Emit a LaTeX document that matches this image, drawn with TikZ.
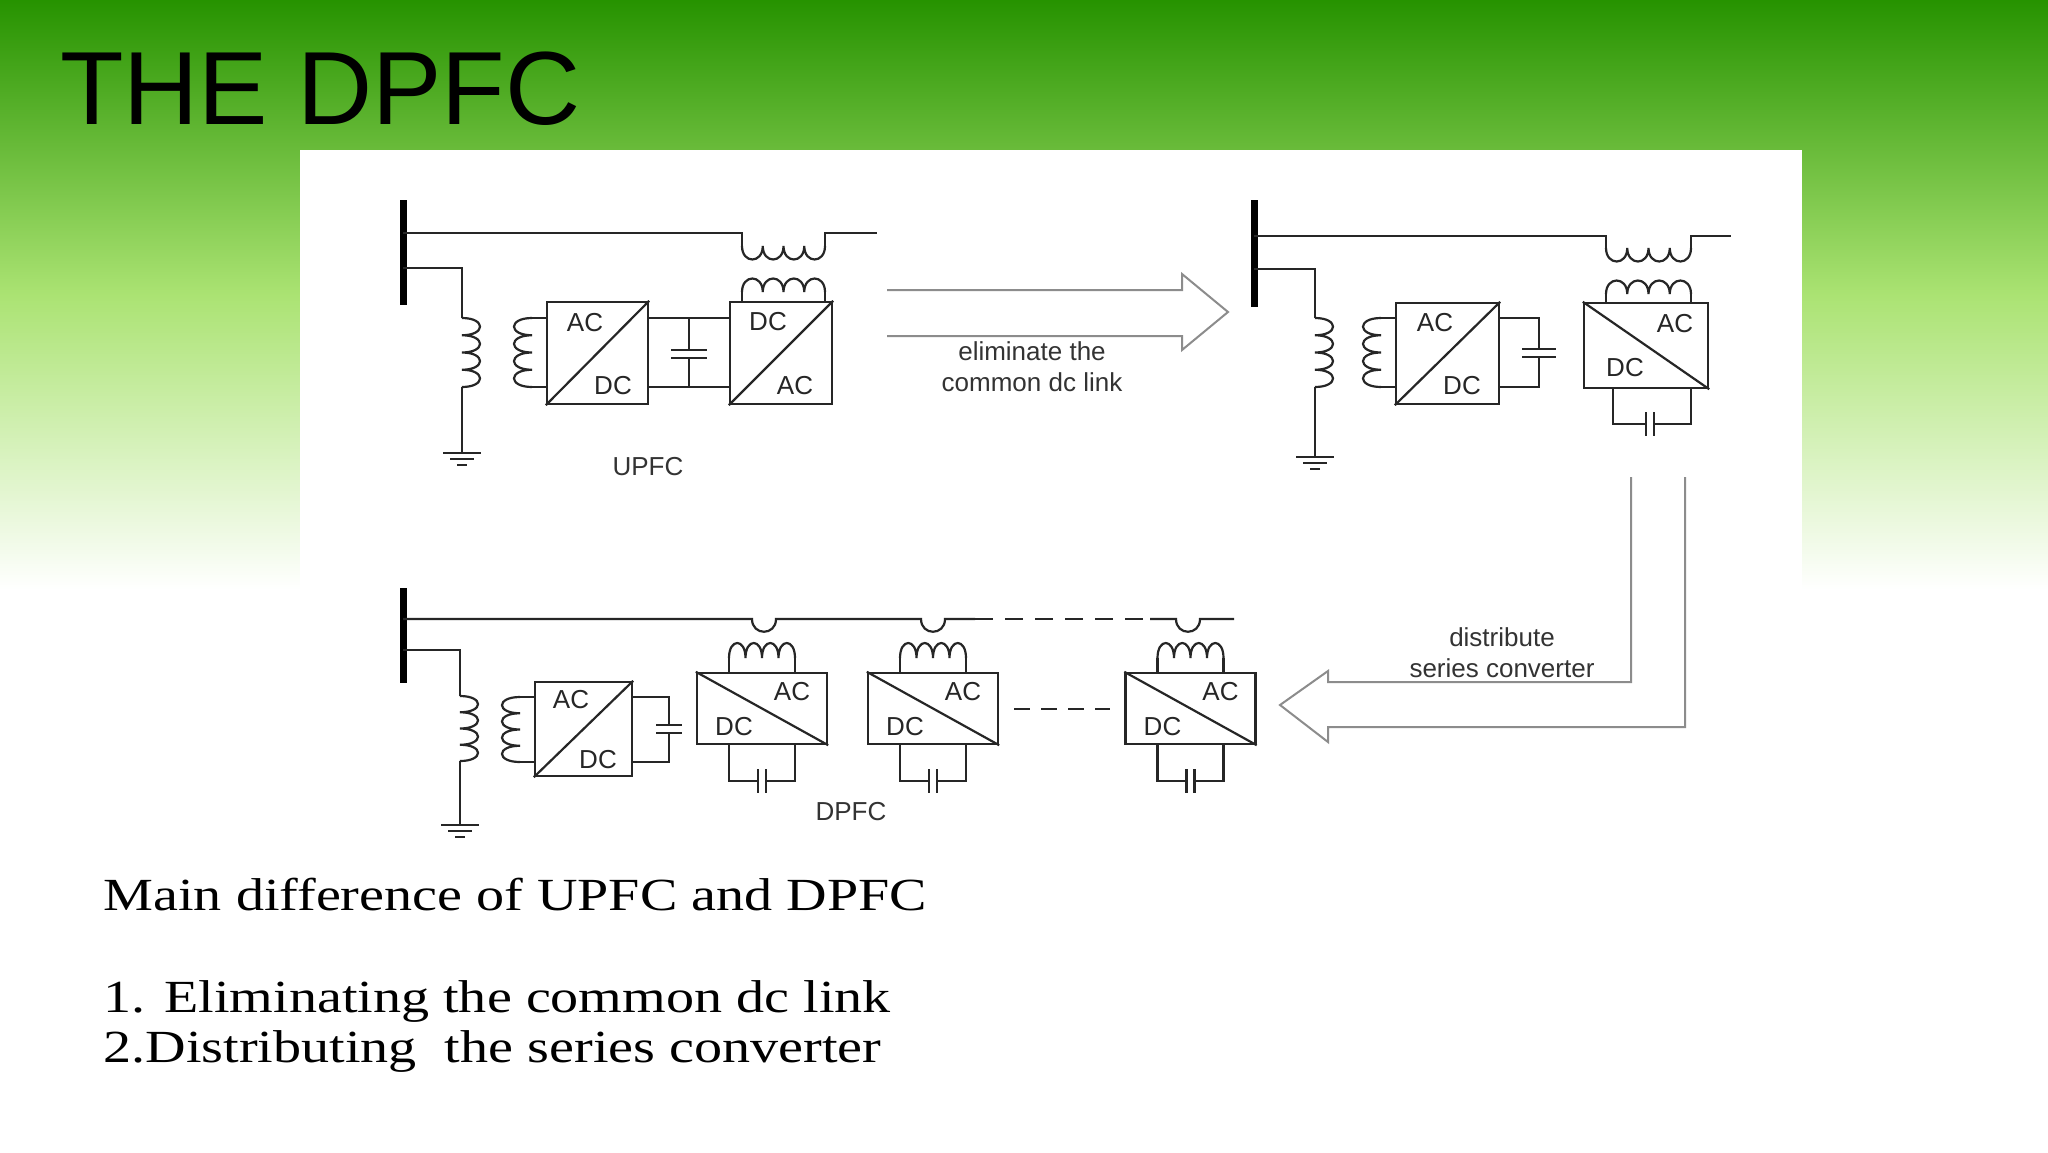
\documentclass[tikz,border=0pt]{standalone}
\usepackage{graphicx}
\usepackage{fontspec}
\setmainfont{Liberation Serif}
\newfontfamily\arialf{Liberation Sans}
\begin{document}
\begin{tikzpicture}[x=1pt,y=-1pt,
  wire/.style={line width=2.2pt,draw=black!85},
  bus/.style={line width=7pt,draw=black},
  box/.style={draw=black!85,line width=2.4pt,minimum width=#1,inner sep=0pt},
  lbl/.style={font=\arialf\fontsize{26}{28}\selectfont,text=black!85},
  note/.style={font=\arialf\fontsize{26}{31}\selectfont,text=black!80},
  big/.style={draw=black!45,line width=2pt},
  body/.style={font=\fontsize{46}{52}\selectfont,anchor=base west}]
\newcommand\hcoil[4]{\draw[wire] (#1,#2) foreach \k in {1,...,4}{ .. controls +(0,#4) and +(0,#4) .. ++(#3,0)};}
\newcommand\vcoil[4]{\draw[wire] (#1,#2) foreach \k in {1,...,4}{ .. controls +(#4,0) and +(#4,0) .. ++(0,#3)};}
\newcommand\gnd[2]{\draw[wire] (#1-19,#2)--(#1+19,#2) (#1-12,#2+6)--(#1+12,#2+6) (#1-5,#2+12)--(#1+5,#2+12);}
\useasboundingbox (0,0) rectangle (2048,1152);
\fill[white] (0,0) rectangle (2048,1152);
\shade[top color=green!50!black!85!yellow, bottom color=white, middle color=green!50!yellow!80!black!55] (0,0) rectangle (2048,590);
\fill[white] (300,150) rectangle (1802,870);
\node[font=\arialf\fontsize{104}{106}\selectfont,anchor=base west,inner sep=0] (title) at (60,124) {THE DPFC};
% ===== UPFC =====
\draw[bus] (403,200)--(403,305);
\draw[wire] (403,233)--(742,233)--(742,246);
\hcoil{742}{246}{20.75}{18}
\draw[wire] (825,246)--(825,233)--(877,233);
\draw[wire] (403,268)--(462,268)--(462,318);
\vcoil{462}{318}{17.25}{24}
\draw[wire] (462,387)--(462,453);
\gnd{462}{453}
\node[box=101pt,minimum height=102pt] (u1) at (597.5,353) {};
\draw[wire] (u1.south west)--(u1.north east);
\node[lbl] (u1a) at (585,323) {AC};
\node[lbl] (u1d) at (613,386) {DC};
\draw[wire] (547,318)--(532,318);
\vcoil{532}{318}{17.25}{-24}
\draw[wire] (532,387)--(547,387);
\node[box=102pt,minimum height=102pt] (u2) at (781,353) {};
\draw[wire] (u2.south west)--(u2.north east);
\node[lbl] (u2d) at (768,322) {DC};
\node[lbl] (u2a) at (795,386) {AC};
\draw[wire] (648,318)--(730,318) (648,387)--(730,387);
\draw[wire] (689,318)--(689,350) (689,358)--(689,387);
\draw[wire] (671,350)--(707,350) (671,358)--(707,358);
\draw[wire] (742,302)--(742,292);
\hcoil{742}{292}{20.75}{-18}
\draw[wire] (825,292)--(825,302);
\node[note] (lu) at (648,467) {UPFC};
% arrow 1
\draw[big] (887,290)--(1182,290)--(1182,274)--(1228,312)--(1182,350)--(1182,336)--(887,336);
\node[note,align=center] (t1) at (1032,367) {eliminate the\\common dc link};
% ===== top right =====
\draw[bus] (1254,200)--(1254,307);
\draw[wire] (1254,236)--(1606,236)--(1606,248);
\hcoil{1606}{248}{21.25}{18}
\draw[wire] (1691,248)--(1691,236)--(1731,236);
\draw[wire] (1254,269)--(1315,269)--(1315,318);
\vcoil{1315}{318}{17.25}{24}
\draw[wire] (1315,387)--(1315,457);
\gnd{1315}{457}
\node[box=103pt,minimum height=101pt] (r1) at (1447.5,353.5) {};
\draw[wire] (r1.south west)--(r1.north east);
\node[lbl] (r1a) at (1435,323) {AC};
\node[lbl] (r1d) at (1462,386) {DC};
\draw[wire] (1396,318)--(1381,318);
\vcoil{1381}{318}{17.25}{-24}
\draw[wire] (1381,387)--(1396,387);
\draw[wire] (1499,318)--(1539,318)--(1539,349) (1539,357)--(1539,387)--(1499,387);
\draw[wire] (1522,349)--(1556,349) (1522,357)--(1556,357);
\node[box=124pt,minimum height=85pt] (r2) at (1646,345.5) {};
\draw[wire] (r2.north west)--(r2.south east);
\node[lbl] (r2a) at (1675,324) {AC};
\node[lbl] (r2d) at (1625,368) {DC};
\draw[wire] (1606,303)--(1606,294);
\hcoil{1606}{294}{21.25}{-18}
\draw[wire] (1691,294)--(1691,303);
\draw[wire] (1613,388)--(1613,424)--(1646,424) (1654,424)--(1691,424)--(1691,388);
\draw[wire] (1646,412)--(1646,436) (1654,412)--(1654,436);
% arrow 2
\draw[big] (1631,477)--(1631,682)--(1328,682)--(1328,671)--(1280,705)--(1328,742)--(1328,727)--(1685,727)--(1685,477);
\node[note,align=center] (t2) at (1502,653) {distribute\\series converter};
% ===== DPFC =====
\draw[bus] (403,588)--(403,683);
\draw[wire] (403,619)--(752,619) .. controls (752,636) and (776,636) .. (776,619)--(921,619) .. controls (921,636) and (945,636) .. (945,619)--(975,619);
\draw[wire,dash pattern=on 18pt off 12pt] (975,619)--(1150,619);
\draw[wire] (1150,619)--(1176,619) .. controls (1176,636) and (1200,636) .. (1200,619)--(1234,619);
\draw[wire] (403,650)--(460,650)--(460,696);
\vcoil{460}{696}{16.25}{24}
\draw[wire] (460,761)--(460,825);
\gnd{460}{825}
\node[box=97pt,minimum height=94pt] (d1) at (583.5,729) {};
\draw[wire] (d1.south west)--(d1.north east);
\node[lbl] (d1a) at (571,700) {AC};
\node[lbl] (d1d) at (598,760) {DC};
\draw[wire] (535,697)--(520,697);
\vcoil{520}{697}{16.25}{-24}
\draw[wire] (520,762)--(535,762);
\draw[wire] (632,697)--(669,697)--(669,725) (669,733)--(669,762)--(632,762);
\draw[wire] (656,725)--(682,725) (656,733)--(682,733);
\foreach \n/\c in {sa/762,sb/933,sc/1190.5}{
  \node[box=130pt,minimum height=71pt] (\n) at (\c,708.5) {};
  \draw[wire] (\n.north west)--(\n.south east);
  \node[lbl] at (\c+30,692) {AC};
  \node[lbl] at (\c-28,727) {DC};
  \draw[wire] (\c-33,673)--(\c-33,658);
  \hcoil{\c-33}{658}{16.5}{-20}
  \draw[wire] (\c+33,658)--(\c+33,673);
  \draw[wire] (\c-33,744)--(\c-33,781)--(\c-4,781) (\c+4,781)--(\c+33,781)--(\c+33,744);
  \draw[wire] (\c-4,769)--(\c-4,793) (\c+4,769)--(\c+4,793);
}
\draw[wire,dash pattern=on 16pt off 11pt] (sb.east |- 0,709) ++(15,0) -- (1110,709);
\node[note] (ld) at (851,812) {DPFC};
% ===== text =====
\node[body] (m) at (100,910) {\scalebox{1.22}[1]{Main difference of UPFC and DPFC}};
\node[body] (p1) at (100,1012) {\scalebox{1.22}[1]{1. Eliminating the common dc link}};
\node[body] (p2) at (100,1062) {\scalebox{1.22}[1]{2.Distributing\ \ the series converter}};
\end{tikzpicture}
\end{document}
